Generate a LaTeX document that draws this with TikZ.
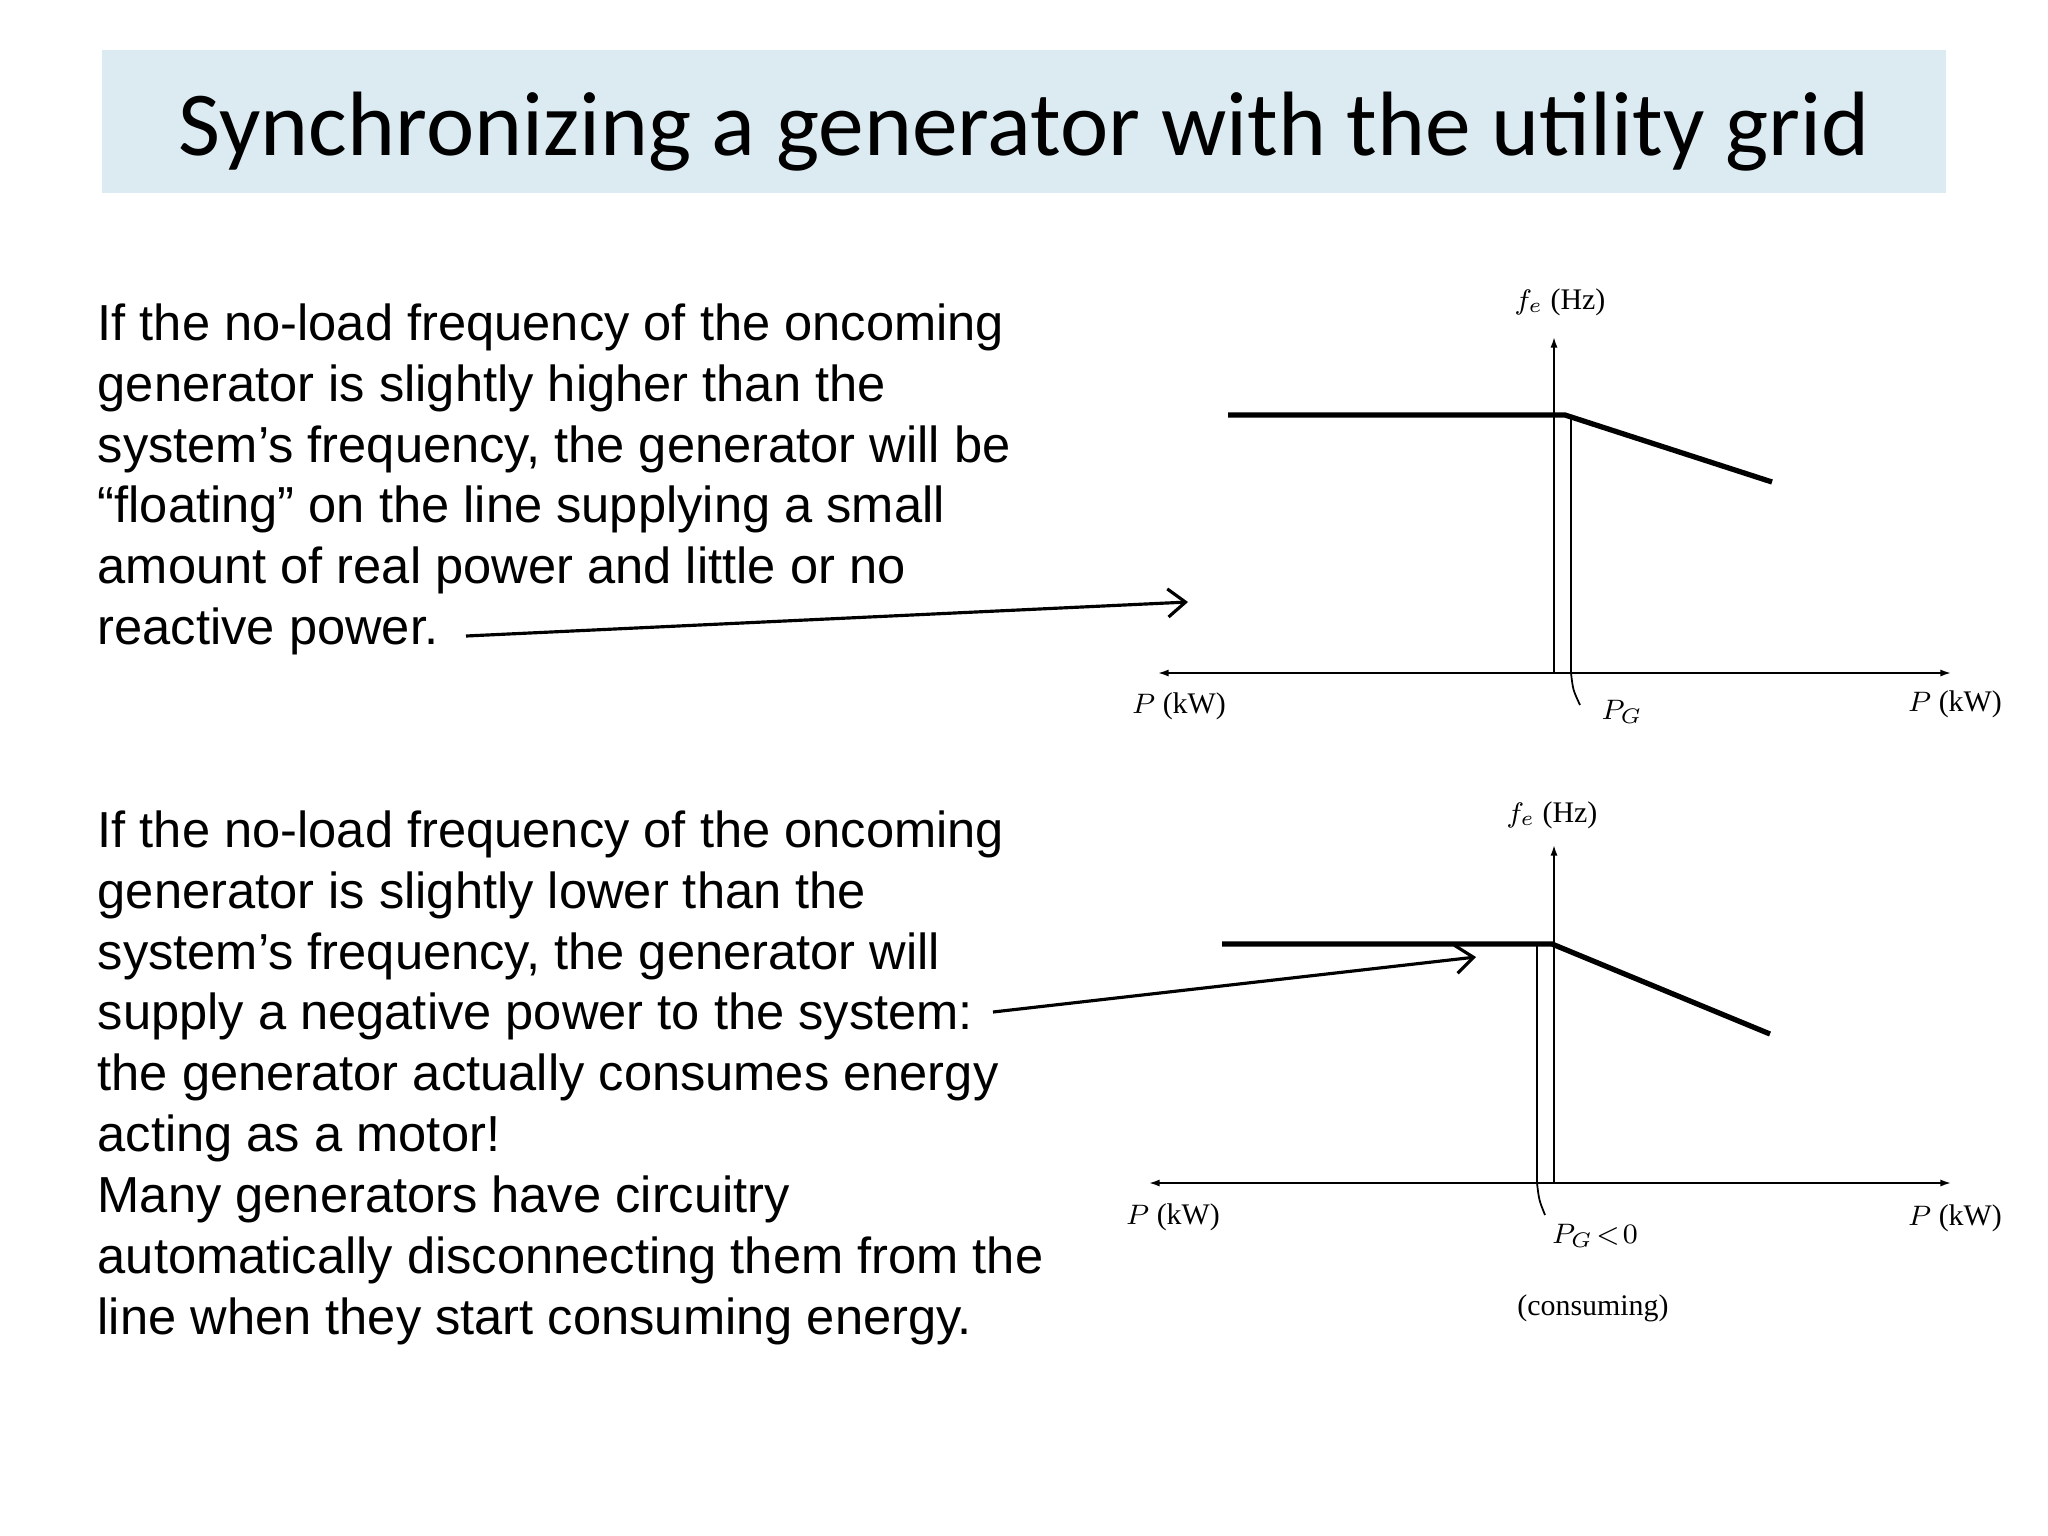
\documentclass[tikz,border=0pt]{standalone}
\usepackage{fontspec}
\setmainfont{Liberation Sans}
\newfontfamily\titlefont{Carlito}
\newfontfamily\graphfont{Liberation Serif}
\definecolor{titlebg}{HTML}{DCEBF2}
\begin{document}
\begin{tikzpicture}[x=0.01cm,y=-0.01cm,
  body/.style={anchor=north west,align=left,inner sep=0pt,font=\fontsize{14.4}{17.3}\selectfont},
  glab/.style={inner sep=0pt,font=\graphfont\fontsize{8.5}{10}\selectfont},
  axis/.style={line width=0.5pt,-{Latex[length=3pt,width=2pt]}},
  curve/.style={line width=1.5pt},
  thin/.style={line width=0.5pt},
  pointer/.style={line width=0.9pt,-{Straight Barb[length=5pt,width=8pt]}}]
\usetikzlibrary{arrows.meta}
\useasboundingbox (0,0) rectangle (2048,1536);
\fill[white] (0,0) rectangle (2048,1536);
\fill[titlebg] (102,50) rectangle (1946,193);
\node[font=\titlefont\fontsize{26}{30}\selectfont] (title) at (1024,132) {Synchronizing a generator with the utility grid};

\node[body] (t1) at (97,303) {If the no-load frequency of the oncoming\\generator is slightly higher than the\\system’s frequency, the generator will be\\“floating” on the line supplying a small\\amount of real power and little or no\\reactive power.};
\node[body] (t2) at (97,810) {If the no-load frequency of the oncoming\\generator is slightly lower than the\\system’s frequency, the generator will\\supply a negative power to the system:\\the generator actually consumes energy\\acting as a motor!\\Many generators have circuitry\\automatically disconnecting them from the\\line when they start consuming energy.};

% graph 1
\coordinate (o1) at (1554,673);
\draw[axis] (o1) -- (1554,337);
\draw[thin,{Latex[length=3pt,width=2pt]}-{Latex[length=3pt,width=2pt]}] (1158,673) -- (1951,673);
\draw[curve] (1228,415) -- (1565,415) -- (1772,482);
\draw[thin] (1571,415) -- (1571,673) .. controls (1573,690) .. (1580,705);
\node[glab] (fe1) at (1560,302) {$f_e$ (Hz)};
\node[glab] (pl1) at (1179,706) {$P$ (kW)};
\node[glab] (pr1) at (1955,704) {$P$ (kW)};
\node[glab] (pg1) at (1622,712) {$P_G$};
\coordinate (a1s) at (466,636);
\coordinate (a1e) at (1188,602);
\draw[pointer] (a1s) -- (a1e);

% graph 2
\coordinate (o2) at (1554,1183);
\draw[axis] (o2) -- (1554,845);
\draw[thin,{Latex[length=3pt,width=2pt]}-{Latex[length=3pt,width=2pt]}] (1149,1183) -- (1951,1183);
\draw[curve] (1222,944) -- (1552,944) -- (1770,1034);
\draw[thin] (1537,946) -- (1537,1183) .. controls (1539,1200) .. (1545,1215);
\node[glab] (fe2) at (1552,815) {$f_e$ (Hz)};
\node[glab] (pl2) at (1173,1217) {$P$ (kW)};
\node[glab] (pr2) at (1955,1218) {$P$ (kW)};
\node[glab] (pg2) at (1595,1236) {$P_G\!<\!0$};
\node[glab] (cons) at (1593,1308) {(consuming)};
\coordinate (a2s) at (993,1012);
\coordinate (a2e) at (1476,957);
\draw[pointer] (a2s) -- (a2e);
\end{tikzpicture}
\end{document}
